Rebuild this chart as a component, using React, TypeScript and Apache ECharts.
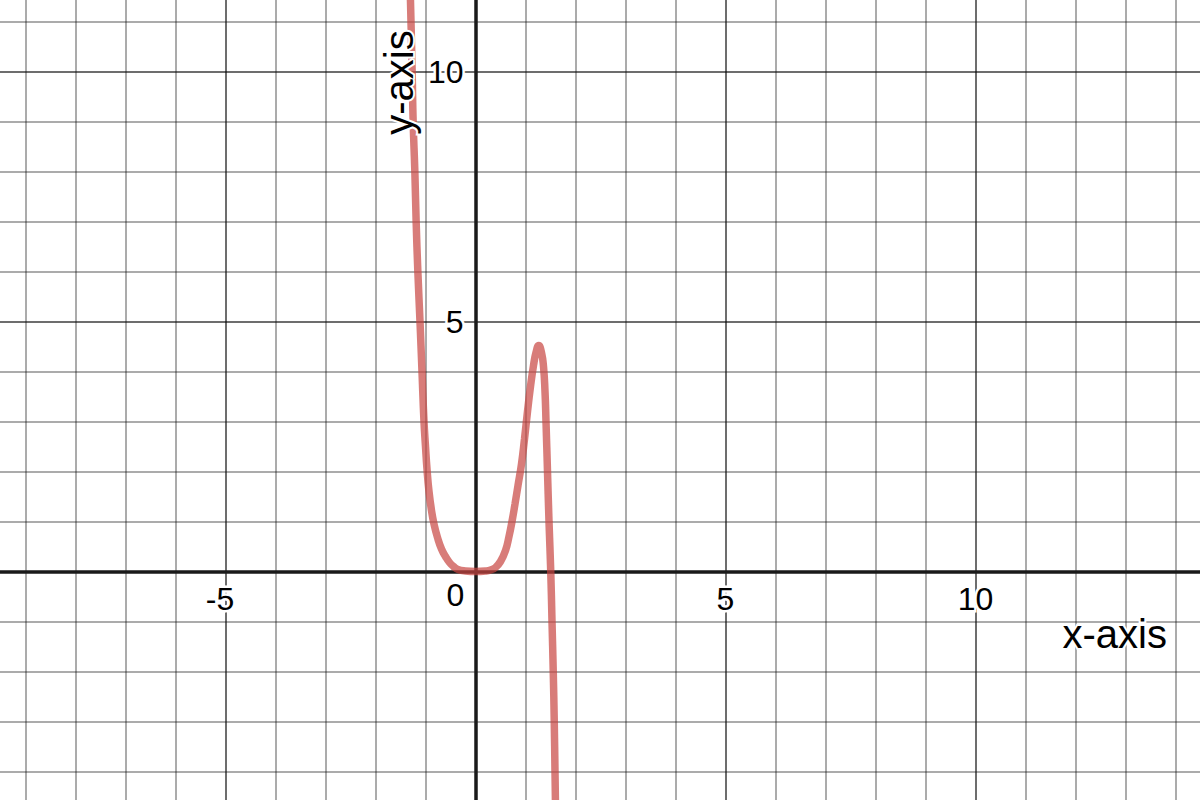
import React, { useEffect, useRef } from "react";
import * as echarts from "echarts";

// Curve samples
const curveX = [-1.326, -1.3, -1.267, -1.247, -1.213, -1.187, -1.153, -1.11, -1.07, -1.03, -1.0, -0.97, -0.93, -0.88, -0.83, -0.76, -0.68, -0.6, -0.52, -0.44, -0.35, -0.2, 0, 0.2, 0.3, 0.4, 0.5, 0.6, 0.67, 0.73, 0.79, 0.85, 0.92, 0.98, 1.04, 1.1, 1.16, 1.21, 1.265, 1.32, 1.36, 1.39, 1.41, 1.44, 1.47, 1.505, 1.53, 1.555, 1.575, 1.59, 1.605, 1.615];
const curveY = [12.5, 11.4, 10, 9, 8, 7, 6, 5, 4, 3, 2.5, 2.05, 1.6, 1.22, 0.95, 0.68, 0.45, 0.3, 0.18, 0.1, 0.04, 0.01, 0, 0.01, 0.03, 0.08, 0.2, 0.42, 0.7, 1.0, 1.35, 1.72, 2.15, 2.65, 3.2, 3.7, 4.12, 4.38, 4.52, 4.38, 4.1, 3.6, 3.0, 2.0, 1.0, 0, -1, -2, -3, -4, -5, -5.5];

// Axis ranges and tick labels
const xRange = [-10, 15];
const yRange = [-5, 12];
const xTickLabels = [-5, 5, 10];
const yTickLabels = [5, 10];
const xName = "x-axis";
const yName = "y-axis";

const FONT = "'Liberation Sans', Arial, Helvetica, sans-serif";

export default function App() {
  const ref = useRef<HTMLDivElement>(null);

  useEffect(() => {
    if (!ref.current) return;
    const chart = echarts.init(ref.current, null, { renderer: "svg" });

    const minorSplit = { show: true, lineStyle: { color: "rgba(0,0,0,0.33)", width: 2 } };
    const majorSplit = { show: true, lineStyle: { color: "rgba(0,0,0,0.36)", width: 2 } };

    // grid geometry: 50 px per unit; origin at (475.5, 571.5)
    const gridLeft = -24.5;
    const gridTop = -28.5;
    const gridW = 1250;
    const gridH = 850;

    const option: any = {
      animation: false,
      backgroundColor: "#fff",
      grid: { left: gridLeft, top: gridTop, width: gridW, height: gridH, containLabel: false, outerBoundsMode: "none" },
      xAxis: [
        {
          type: "value", min: xRange[0], max: xRange[1], interval: 1,
          axisLine: { show: false }, axisTick: { show: false }, axisLabel: { show: false },
          splitLine: minorSplit,
        },
        {
          type: "value", min: xRange[0], max: xRange[1], interval: 5, position: "bottom",
          offset: -250,
          axisLine: { show: true, onZero: false, lineStyle: { color: "#1a1a1a", width: 3.5 } },
          axisTick: { show: false },
          axisLabel: {
            show: true, margin: 11, color: "#000", fontSize: 32, fontFamily: FONT, lineHeight: 32,
            textBorderColor: "#fff", textBorderWidth: 5,
            formatter: (v: number) => {
              if (v === 0) return "{z|0}";
              if (xTickLabels.indexOf(v) < 0) return "";
              return v < 0 ? "{n|" + v + "}" : String(v);
            },
            rich: {
              z: { padding: [0, 40, 0, 0], fontSize: 32, fontFamily: FONT, lineHeight: 25, color: "#000", textBorderColor: "#fff", textBorderWidth: 5 },
              n: { padding: [0, 11, 0, 0], fontSize: 32, fontFamily: FONT, lineHeight: 32, color: "#000", textBorderColor: "#fff", textBorderWidth: 5 },
            },
          },
          splitLine: majorSplit,
        },
      ],
      yAxis: [
        {
          type: "value", min: yRange[0], max: yRange[1], interval: 1,
          axisLine: { show: false }, axisTick: { show: false }, axisLabel: { show: false },
          splitLine: minorSplit,
        },
        {
          type: "value", min: yRange[0], max: yRange[1], interval: 5, position: "left",
          offset: -500,
          axisLine: { show: true, onZero: false, lineStyle: { color: "#1a1a1a", width: 3.5 } },
          axisTick: { show: false },
          axisLabel: {
            show: true, margin: 12, color: "#000", fontSize: 32, fontFamily: FONT,
            textBorderColor: "#fff", textBorderWidth: 5,
            formatter: (v: number) => (yTickLabels.indexOf(v) >= 0 ? String(v) : ""),
          },
          splitLine: majorSplit,
        },
      ],
      graphic: [
        {
          type: "text", right: 31, top: 612,
          style: { text: xName, fontSize: 40, fontFamily: FONT, fill: "#000", stroke: "#fff", lineWidth: 4 },
          z: 100,
        },
        {
          type: "text", x: 399, y: 82.5, rotation: Math.PI / 2,
          style: { text: yName, fontSize: 40, fontFamily: FONT, fill: "#000", align: "center", verticalAlign: "middle", stroke: "#fff", lineWidth: 4 },
          z: 100,
        },
      ],
      series: [
        {
          type: "line",
          xAxisIndex: 0,
          yAxisIndex: 0,
          data: curveX.map((x, i) => [x, curveY[i]]),
          showSymbol: false,
          smooth: 0.5,
          clip: true,
          lineStyle: { color: "#c74440", width: 7.5, opacity: 0.7 },
          z: 5,
        },
      ],
    };

    chart.setOption(option);
    return () => chart.dispose();
  }, []);

  return (
    <div
      ref={ref}
      style={{ position: "fixed", left: 0, top: 0, width: 1200, height: 800, overflow: "hidden", background: "#fff" }}
    />
  );
}
